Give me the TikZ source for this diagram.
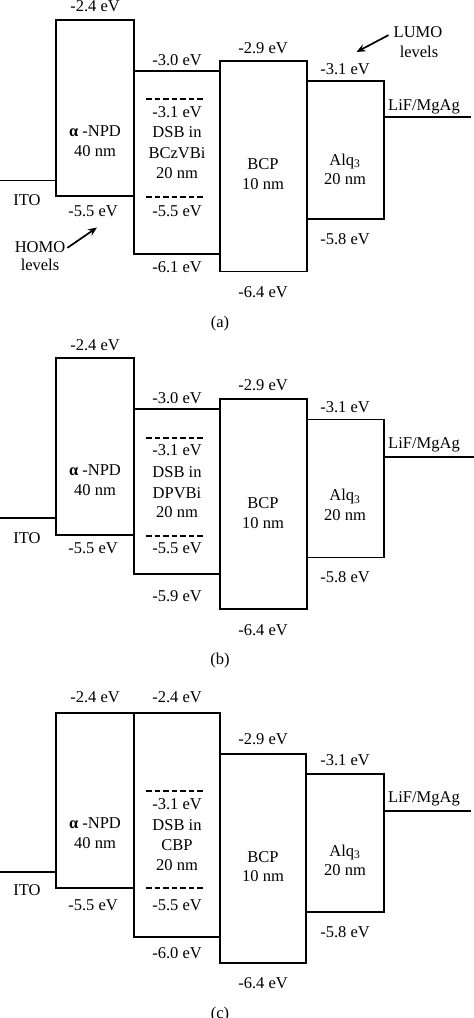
\documentclass[tikz,border=0pt]{standalone}
\usepackage{fontspec}
\setmainfont{Liberation Serif}
\usetikzlibrary{arrows.meta}
\begin{document}
\begin{tikzpicture}[x=1pt,y=-1pt,
  lay/.style={line width=1.8pt},
  thin/.style={line width=1.2pt},
  lvl/.style={line width=1.8pt},
  dlvl/.style={line width=1.7pt, dash pattern=on 5.5pt off 3pt},
  lbl/.style={font=\fontsize{16.5}{19}\selectfont, inner sep=0pt, anchor=base},
  ptr/.style={line width=1.7pt, -{Stealth[length=9pt,width=7.5pt]}}]
\useasboundingbox (0,0) rectangle (474,1018);
% ================= panel (a)
\begin{scope}
\draw[lvl] (0,180.5) -- (56,180.5);
\draw[lay] (56,20) rectangle (134,196);
\draw[lay] (134,70.7) rectangle (220,254);
\draw[dlvl] (146,99.3) -- (205,99.3);
\draw[dlvl] (146,197.3) -- (205,197.3);
\draw[lay] (220,61) rectangle (307,271.5);
\draw[lay] (307,81) rectangle (384,219);
\draw[lvl] (384,117) -- (471,117);
\node[lbl] (a1) at (95,11) {-2.4 eV};
\node[lbl] (a2) at (177,65.5) {-3.0 eV};
\node[lbl] (a3) at (263,53) {-2.9 eV};
\node[lbl] (a4) at (345,74.5) {-3.1 eV};
\node[lbl] (a5) at (424,110.5) {LiF/MgAg};
\node[lbl] (a6) at (95,136) {{\bfseries α} -NPD};
\node[lbl] (a7) at (95,156) {40 nm};
\node[lbl] (a8) at (177,117.2) {-3.1 eV};
\node[lbl] (a9) at (177,137.8) {DSB in};
\node[lbl] (a10) at (177,158.8) {BCzVBi};
\node[lbl] (a11) at (177,178.8) {20 nm};
\node[lbl] (a12) at (93,216.5) {-5.5 eV};
\node[lbl] (a13) at (177,216.5) {-5.5 eV};
\node[lbl] (a14) at (27,205.5) {ITO};
\node[lbl] (a15) at (177,272.2) {-6.1 eV};
\node[lbl] (a16) at (263,169.5) {BCP};
\node[lbl] (a17) at (263,189) {10 nm};
\node[lbl] (a18) at (345,165) {Alq\textsubscript{3}};
\node[lbl] (a19) at (345,184.5) {20 nm};
\node[lbl] (a20) at (345,244) {-5.8 eV};
\node[lbl] (a21) at (263,297) {-6.4 eV};
\node[lbl] (cap-a) at (220,327) {(a)};
\node[lbl] (homo) at (40,252.2) {HOMO};
\node[lbl] (homo2) at (40,270.5) {levels};
\node[lbl] (lumo) at (418,37.5) {LUMO};
\node[lbl] (lumo2) at (419,57.5) {levels};
\coordinate (homotip) at (97,227.5);
\coordinate (lumotip) at (356.5,52);
\draw[ptr] (homo.east) ++(2pt,-1pt) -- (homotip);
\draw[ptr] (lumo.west) ++(-5pt,-3pt) -- (lumotip);
\end{scope}
% ================= panel (b)
\begin{scope}[yshift=-338.3pt]
\draw[lvl] (0,180) -- (56,180);
\draw[lay] (56,20) rectangle (134,196.5);
\draw[thin] (134,70.7) rectangle (220,235.7);
\draw[dlvl] (146,99.4) -- (205,99.4);
\draw[dlvl] (146,197.4) -- (205,197.4);
\draw[lay] (220,60.7) rectangle (307,271);
\draw[thin] (307,81) rectangle (384,219.4);
\draw[lvl] (384,118.4) -- (474,118.4);
\node[lbl] (b1) at (95,12) {-2.4 eV};
\node[lbl] (b2) at (177,65.5) {-3.0 eV};
\node[lbl] (b3) at (263,52.2) {-2.9 eV};
\node[lbl] (b4) at (345,73.9) {-3.1 eV};
\node[lbl] (b5) at (424,110.5) {LiF/MgAg};
\node[lbl] (b6) at (95,137.2) {{\bfseries α} -NPD};
\node[lbl] (b7) at (95,157.2) {40 nm};
\node[lbl] (b8) at (177,117.2) {-3.1 eV};
\node[lbl] (b9) at (177,138.9) {DSB in};
\node[lbl] (b10) at (177,160.5) {DPVBi};
\node[lbl] (b11) at (177,178.9) {20 nm};
\node[lbl] (b12) at (93,215.5) {-5.5 eV};
\node[lbl] (b13) at (177,215.5) {-5.5 eV};
\node[lbl] (b14) at (27,205.5) {ITO};
\node[lbl] (b15) at (177,262.9) {-5.9 eV};
\node[lbl] (b16) at (263,170.5) {BCP};
\node[lbl] (b17) at (263,189.9) {10 nm};
\node[lbl] (b18) at (345,162.5) {Alq\textsubscript{3}};
\node[lbl] (b19) at (345,182.2) {20 nm};
\node[lbl] (b20) at (345,243.9) {-5.8 eV};
\node[lbl] (b21) at (263,297.2) {-6.4 eV};
\node[lbl] (cap-b) at (220,326.2) {(b)};
\end{scope}
% ================= panel (c)
\begin{scope}[yshift=-692.7pt]
\draw[lvl] (0,179) -- (56,179);
\draw[lay] (56,20) rectangle (134,195.6);
\draw[lay] (134,20) rectangle (220,244);
\draw[dlvl] (146,98.3) -- (205,98.3);
\draw[dlvl] (146,195.6) -- (205,195.6);
\draw[lay] (220,61.3) rectangle (306,270.6);
\draw[lay] (306,81.6) rectangle (384,219.6);
\draw[lvl] (384,118) -- (471,118);
\node[lbl] (c1) at (95,10.1) {-2.4 eV};
\node[lbl] (c2) at (177,10.1) {-2.4 eV};
\node[lbl] (c3) at (263,52.1) {-2.9 eV};
\node[lbl] (c4) at (345,72.8) {-3.1 eV};
\node[lbl] (c5) at (424,109.5) {LiF/MgAg};
\node[lbl] (c6) at (95,136.1) {{\bfseries α} -NPD};
\node[lbl] (c7) at (95,156.1) {40 nm};
\node[lbl] (c8) at (177,117.1) {-3.1 eV};
\node[lbl] (c9) at (177,137.8) {DSB in};
\node[lbl] (c10) at (177,157.8) {CBP};
\node[lbl] (c11) at (177,177.8) {20 nm};
\node[lbl] (c12) at (93,217.8) {-5.5 eV};
\node[lbl] (c13) at (177,217.8) {-5.5 eV};
\node[lbl] (c14) at (27,202.8) {ITO};
\node[lbl] (c15) at (177,266.1) {-6.0 eV};
\node[lbl] (c16) at (263,169.5) {BCP};
\node[lbl] (c17) at (263,188.8) {10 nm};
\node[lbl] (c18) at (345,163.5) {Alq\textsubscript{3}};
\node[lbl] (c19) at (345,182.8) {20 nm};
\node[lbl] (c20) at (345,244.5) {-5.8 eV};
\node[lbl] (c21) at (263,295.5) {-6.4 eV};
\node[lbl] (cap-c) at (220,325.3) {(c)};
\end{scope}
\end{tikzpicture}
\end{document}
